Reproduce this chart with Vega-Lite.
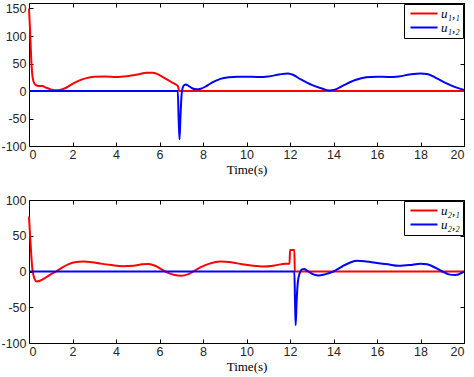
{
  "$schema": "https://vega.github.io/schema/vega-lite/v6.json",
  "padding": {"left": 0, "top": 2, "right": 6, "bottom": 2},
  "config": {
    "view": {"stroke": null},
    "axis": {"grid": false, "domainColor": "black", "tickColor": "black", "tickSize": -4, "labelFont": "Liberation Sans", "labelFontSize": 12.5, "labelColor": "#262626", "labelPadding": 6, "titleFont": "Liberation Serif", "titleFontSize": 13, "titleFontWeight": "normal", "titleColor": "black", "titlePadding": 3},
    "axisY": {"labelPadding": 7, "labelExpr": "'' + datum.value"},
    "legend": {"fillColor": "white", "strokeColor": "black", "padding": 3, "rowPadding": -1, "symbolType": "M-0.75,0H6", "symbolSize": 64, "symbolStrokeWidth": 2, "labelFont": "Liberation Serif", "labelFontStyle": "italic", "labelFontSize": 13, "labelOffset": 21, "offset": 1, "cornerRadius": 0}
  },
  "spacing": 17,
  "resolve": {"scale": {"color": "independent", "x": "independent", "y": "independent"}, "legend": {"color": "independent"}},
  "vconcat": [
    {
      "width": 435, "height": 143,
      "data": {"values": [
        {"s": "u₁,₁", "t": 0, "v": 150}, {"s": "u₁,₁", "t": 0.05, "v": 110}, {"s": "u₁,₁", "t": 0.1, "v": 60}, {"s": "u₁,₁", "t": 0.15, "v": 30}, {"s": "u₁,₁", "t": 0.2, "v": 18}, {"s": "u₁,₁", "t": 0.3, "v": 11}, {"s": "u₁,₁", "t": 0.45, "v": 9}, {"s": "u₁,₁", "t": 0.6, "v": 9}, {"s": "u₁,₁", "t": 0.8, "v": 6}, {"s": "u₁,₁", "t": 1.0, "v": 3}, {"s": "u₁,₁", "t": 1.2, "v": 1.5}, {"s": "u₁,₁", "t": 1.4, "v": 2}, {"s": "u₁,₁", "t": 1.6, "v": 4}, {"s": "u₁,₁", "t": 1.8, "v": 8}, {"s": "u₁,₁", "t": 2.0, "v": 13}, {"s": "u₁,₁", "t": 2.3, "v": 19}, {"s": "u₁,₁", "t": 2.6, "v": 23}, {"s": "u₁,₁", "t": 3.0, "v": 26}, {"s": "u₁,₁", "t": 3.5, "v": 26.5}, {"s": "u₁,₁", "t": 4.0, "v": 25.5}, {"s": "u₁,₁", "t": 4.5, "v": 27}, {"s": "u₁,₁", "t": 5.0, "v": 30}, {"s": "u₁,₁", "t": 5.4, "v": 33}, {"s": "u₁,₁", "t": 5.7, "v": 33}, {"s": "u₁,₁", "t": 6.0, "v": 29}, {"s": "u₁,₁", "t": 6.3, "v": 22}, {"s": "u₁,₁", "t": 6.6, "v": 15}, {"s": "u₁,₁", "t": 6.85, "v": 9}, {"s": "u₁,₁", "t": 6.9, "v": 0}, {"s": "u₁,₁", "t": 20, "v": 0},
        {"s": "u₁,₂", "t": 0, "v": 0}, {"s": "u₁,₂", "t": 6.84, "v": 0}, {"s": "u₁,₂", "t": 6.88, "v": -50}, {"s": "u₁,₂", "t": 6.92, "v": -88}, {"s": "u₁,₂", "t": 6.96, "v": -50}, {"s": "u₁,₂", "t": 7.02, "v": -5}, {"s": "u₁,₂", "t": 7.1, "v": 9}, {"s": "u₁,₂", "t": 7.2, "v": 12}, {"s": "u₁,₂", "t": 7.35, "v": 9}, {"s": "u₁,₂", "t": 7.5, "v": 5}, {"s": "u₁,₂", "t": 7.7, "v": 3}, {"s": "u₁,₂", "t": 7.9, "v": 4}, {"s": "u₁,₂", "t": 8.2, "v": 10}, {"s": "u₁,₂", "t": 8.5, "v": 17}, {"s": "u₁,₂", "t": 8.8, "v": 22}, {"s": "u₁,₂", "t": 9.2, "v": 25}, {"s": "u₁,₂", "t": 9.6, "v": 26}, {"s": "u₁,₂", "t": 10, "v": 26}, {"s": "u₁,₂", "t": 10.5, "v": 25.5}, {"s": "u₁,₂", "t": 11, "v": 26.5}, {"s": "u₁,₂", "t": 11.5, "v": 30}, {"s": "u₁,₂", "t": 11.9, "v": 32}, {"s": "u₁,₂", "t": 12.1, "v": 30}, {"s": "u₁,₂", "t": 12.5, "v": 21}, {"s": "u₁,₂", "t": 13, "v": 11}, {"s": "u₁,₂", "t": 13.5, "v": 4}, {"s": "u₁,₂", "t": 13.8, "v": 1}, {"s": "u₁,₂", "t": 14.1, "v": 3}, {"s": "u₁,₂", "t": 14.5, "v": 11}, {"s": "u₁,₂", "t": 15, "v": 20}, {"s": "u₁,₂", "t": 15.5, "v": 25}, {"s": "u₁,₂", "t": 16, "v": 26}, {"s": "u₁,₂", "t": 16.5, "v": 25.5}, {"s": "u₁,₂", "t": 17, "v": 26.5}, {"s": "u₁,₂", "t": 17.5, "v": 30}, {"s": "u₁,₂", "t": 18, "v": 32}, {"s": "u₁,₂", "t": 18.3, "v": 31}, {"s": "u₁,₂", "t": 18.7, "v": 24}, {"s": "u₁,₂", "t": 19.2, "v": 14}, {"s": "u₁,₂", "t": 19.6, "v": 7}, {"s": "u₁,₂", "t": 20, "v": 2}
      ]},
      "layer": [
        {
          "mark": {"type": "line", "strokeWidth": 2, "interpolate": "monotone"},
          "encoding": {
            "x": {"field": "t", "type": "quantitative", "scale": {"domain": [0, 20], "nice": false}, "axis": {"title": "Time(s)", "values": [0, 2, 4, 6, 8, 10, 12, 14, 16, 18, 20], "orient": "bottom"}},
            "y": {"field": "v", "type": "quantitative", "scale": {"domain": [-100, 160], "nice": false}, "axis": {"title": null, "values": [-100, -50, 0, 50, 100, 150], "orient": "left"}},
            "color": {"field": "s", "type": "nominal", "scale": {"domain": ["u₁,₁", "u₁,₂"], "range": ["#ff0000", "#0000ff"]}, "legend": {"title": null, "orient": "top-right"}}
          }
        },
        {
          "mark": {"type": "line", "opacity": 0},
          "encoding": {
            "x": {"field": "t", "type": "quantitative", "scale": {"domain": [0, 20], "nice": false}, "axis": {"title": null, "labels": false, "values": [0, 2, 4, 6, 8, 10, 12, 14, 16, 18, 20], "orient": "top"}},
            "y": {"field": "v", "type": "quantitative", "scale": {"domain": [-100, 160], "nice": false}, "axis": {"title": null, "labels": false, "values": [-100, -50, 0, 50, 100, 150], "orient": "right"}}
          }
        }
      ],
      "resolve": {"axis": {"x": "independent", "y": "independent"}}
    },
    {
      "width": 435, "height": 143,
      "data": {"values": [
        {"s": "u₂,₁", "t": 0, "v": 77}, {"s": "u₂,₁", "t": 0.05, "v": 50}, {"s": "u₂,₁", "t": 0.1, "v": 25}, {"s": "u₂,₁", "t": 0.15, "v": 5}, {"s": "u₂,₁", "t": 0.25, "v": -10}, {"s": "u₂,₁", "t": 0.35, "v": -14}, {"s": "u₂,₁", "t": 0.5, "v": -13}, {"s": "u₂,₁", "t": 0.75, "v": -9}, {"s": "u₂,₁", "t": 1.0, "v": -4}, {"s": "u₂,₁", "t": 1.25, "v": 0}, {"s": "u₂,₁", "t": 1.5, "v": 5}, {"s": "u₂,₁", "t": 1.8, "v": 10}, {"s": "u₂,₁", "t": 2.1, "v": 13}, {"s": "u₂,₁", "t": 2.5, "v": 14}, {"s": "u₂,₁", "t": 2.9, "v": 13}, {"s": "u₂,₁", "t": 3.3, "v": 11}, {"s": "u₂,₁", "t": 3.8, "v": 9}, {"s": "u₂,₁", "t": 4.3, "v": 7.5}, {"s": "u₂,₁", "t": 4.8, "v": 8}, {"s": "u₂,₁", "t": 5.2, "v": 10}, {"s": "u₂,₁", "t": 5.5, "v": 10.5}, {"s": "u₂,₁", "t": 5.8, "v": 8}, {"s": "u₂,₁", "t": 6.1, "v": 3}, {"s": "u₂,₁", "t": 6.4, "v": -2}, {"s": "u₂,₁", "t": 6.7, "v": -5}, {"s": "u₂,₁", "t": 7.0, "v": -6}, {"s": "u₂,₁", "t": 7.3, "v": -4}, {"s": "u₂,₁", "t": 7.6, "v": 1}, {"s": "u₂,₁", "t": 7.9, "v": 6}, {"s": "u₂,₁", "t": 8.3, "v": 11}, {"s": "u₂,₁", "t": 8.8, "v": 14}, {"s": "u₂,₁", "t": 9.3, "v": 13}, {"s": "u₂,₁", "t": 9.8, "v": 10}, {"s": "u₂,₁", "t": 10.3, "v": 8}, {"s": "u₂,₁", "t": 10.8, "v": 7}, {"s": "u₂,₁", "t": 11.3, "v": 8.5}, {"s": "u₂,₁", "t": 11.8, "v": 11}, {"s": "u₂,₁", "t": 11.98, "v": 11}, {"s": "u₂,₁", "t": 12.0, "v": 30}, {"s": "u₂,₁", "t": 12.2, "v": 30}, {"s": "u₂,₁", "t": 12.22, "v": 0}, {"s": "u₂,₁", "t": 20, "v": 0},
        {"s": "u₂,₂", "t": 0, "v": 0}, {"s": "u₂,₂", "t": 12.2, "v": 0}, {"s": "u₂,₂", "t": 12.23, "v": -40}, {"s": "u₂,₂", "t": 12.26, "v": -75}, {"s": "u₂,₂", "t": 12.3, "v": -45}, {"s": "u₂,₂", "t": 12.36, "v": -15}, {"s": "u₂,₂", "t": 12.45, "v": -2}, {"s": "u₂,₂", "t": 12.55, "v": 3}, {"s": "u₂,₂", "t": 12.65, "v": 3.5}, {"s": "u₂,₂", "t": 12.8, "v": 1}, {"s": "u₂,₂", "t": 13.0, "v": -3}, {"s": "u₂,₂", "t": 13.3, "v": -5.5}, {"s": "u₂,₂", "t": 13.6, "v": -4}, {"s": "u₂,₂", "t": 14.0, "v": 0}, {"s": "u₂,₂", "t": 14.4, "v": 7}, {"s": "u₂,₂", "t": 14.8, "v": 13}, {"s": "u₂,₂", "t": 15.1, "v": 15}, {"s": "u₂,₂", "t": 15.5, "v": 14}, {"s": "u₂,₂", "t": 16, "v": 12}, {"s": "u₂,₂", "t": 16.5, "v": 10}, {"s": "u₂,₂", "t": 17, "v": 8}, {"s": "u₂,₂", "t": 17.5, "v": 9}, {"s": "u₂,₂", "t": 18, "v": 11}, {"s": "u₂,₂", "t": 18.3, "v": 10}, {"s": "u₂,₂", "t": 18.7, "v": 5}, {"s": "u₂,₂", "t": 19.0, "v": 0}, {"s": "u₂,₂", "t": 19.3, "v": -4}, {"s": "u₂,₂", "t": 19.6, "v": -5}, {"s": "u₂,₂", "t": 19.9, "v": -2}, {"s": "u₂,₂", "t": 20, "v": 0}
      ]},
      "layer": [
        {
          "mark": {"type": "line", "strokeWidth": 2, "interpolate": "monotone"},
          "encoding": {
            "x": {"field": "t", "type": "quantitative", "scale": {"domain": [0, 20], "nice": false}, "axis": {"title": "Time(s)", "values": [0, 2, 4, 6, 8, 10, 12, 14, 16, 18, 20], "orient": "bottom"}},
            "y": {"field": "v", "type": "quantitative", "scale": {"domain": [-100, 100], "nice": false}, "axis": {"title": null, "values": [-100, -50, 0, 50, 100], "orient": "left"}},
            "color": {"field": "s", "type": "nominal", "scale": {"domain": ["u₂,₁", "u₂,₂"], "range": ["#ff0000", "#0000ff"]}, "legend": {"title": null, "orient": "top-right"}}
          }
        },
        {
          "mark": {"type": "line", "opacity": 0},
          "encoding": {
            "x": {"field": "t", "type": "quantitative", "scale": {"domain": [0, 20], "nice": false}, "axis": {"title": null, "labels": false, "values": [0, 2, 4, 6, 8, 10, 12, 14, 16, 18, 20], "orient": "top"}},
            "y": {"field": "v", "type": "quantitative", "scale": {"domain": [-100, 100], "nice": false}, "axis": {"title": null, "labels": false, "values": [-100, -50, 0, 50, 100], "orient": "right"}}
          }
        }
      ],
      "resolve": {"axis": {"x": "independent", "y": "independent"}}
    }
  ]
}
